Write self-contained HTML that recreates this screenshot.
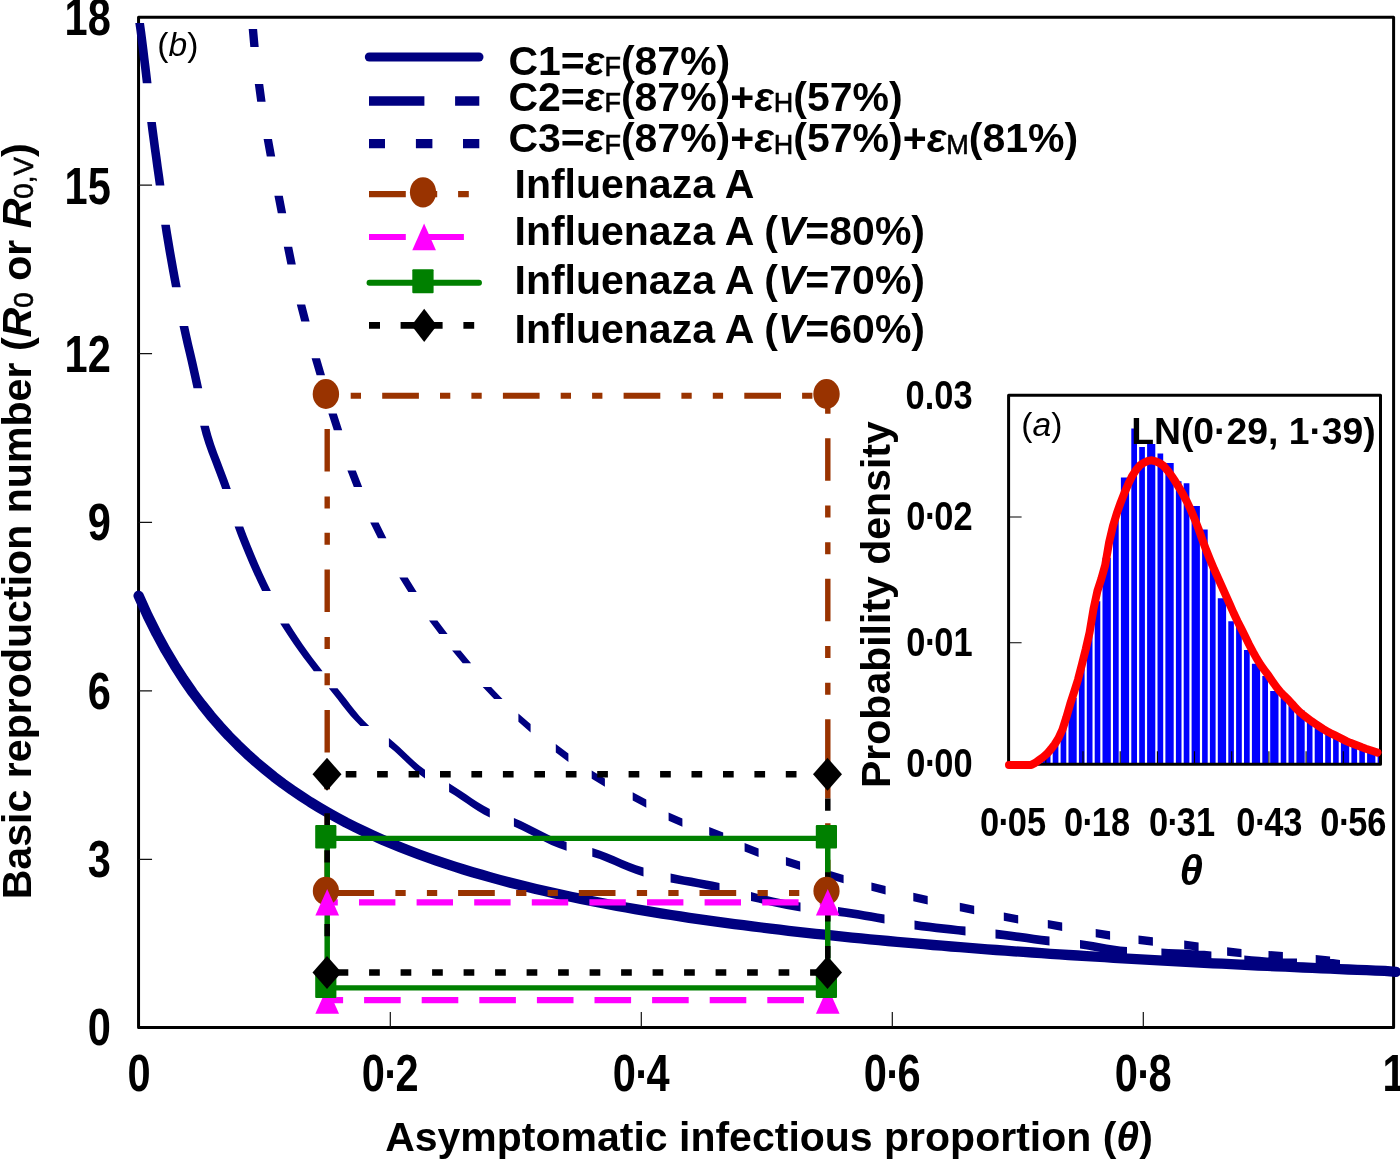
<!DOCTYPE html>
<html lang="en"><head><meta charset="utf-8"><title>Figure</title><style>html,body{margin:0;padding:0;background:#fff}svg{display:block}</style></head><body>
<svg width="1400" height="1162" viewBox="0 0 1400 1162" font-family="'Liberation Sans', sans-serif" font-weight="bold" fill="#000">
<rect width="1400" height="1162" fill="#fff"/>
<rect x="138.55" y="17.3" width="1255.05" height="1010.1000000000001" fill="none" stroke="#000" stroke-width="3" stroke-linejoin="round"/>
<path d="M138.55 859.4h13.5M138.55 690.8h13.5M138.55 522.3h13.5M138.55 353.7h13.5M138.55 185.2h13.5M390.3 1027.4v-15.5M641.3 1027.4v-15.5M892.3 1027.4v-15.5M1143.3 1027.4v-15.5" stroke="#111" stroke-width="1.2" fill="none"/>
<g fill="none" stroke="#000080">
<path d="M138.6 595.7 L147.6 615.6 L156.6 633.6 L165.6 650.2 L174.7 665.4 L183.7 679.5 L192.7 692.5 L201.8 704.5 L210.8 715.8 L219.8 726.2 L228.8 736 L237.9 745.2 L246.9 753.8 L255.9 761.9 L265 769.5 L274 776.8 L283 783.6 L292 790 L301.1 796.1 L310.1 802 L319.1 807.5 L328.2 812.8 L337.2 817.8 L346.2 822.6 L355.2 827.1 L364.3 831.5 L373.3 835.7 L382.3 839.7 L391.4 843.6 L400.4 847.3 L409.4 850.8 L418.5 854.2 L427.5 857.5 L436.5 860.7 L445.5 863.7 L454.6 866.6 L463.6 869.5 L472.6 872.2 L481.7 874.8 L490.7 877.4 L499.7 879.9 L508.7 882.3 L517.8 884.6 L526.8 886.8 L535.8 889 L544.9 891.1 L553.9 893.1 L562.9 895.1 L571.9 897 L581 898.9 L590 900.7 L599 902.5 L608.1 904.2 L617.1 905.9 L626.1 907.5 L635.2 909.1 L644.2 910.6 L653.2 912.1 L662.2 913.6 L671.3 915 L680.3 916.4 L689.3 917.8 L698.4 919.1 L707.4 920.4 L716.4 921.6 L725.4 922.9 L734.5 924.1 L743.5 925.2 L752.5 926.4 L761.6 927.5 L770.6 928.6 L779.6 929.7 L788.6 930.8 L797.7 931.8 L806.7 932.8 L815.7 933.8 L824.8 934.7 L833.8 935.7 L842.8 936.6 L851.9 937.5 L860.9 938.4 L869.9 939.3 L878.9 940.2 L888 941 L897 941.8 L906 942.6 L915.1 943.4 L924.1 944.2 L933.1 945 L942.1 945.7 L951.2 946.5 L960.2 947.2 L969.2 947.9 L978.3 948.6 L987.3 949.3 L996.3 950 L1005.3 950.6 L1014.4 951.3 L1023.4 951.9 L1032.4 952.5 L1041.5 953.2 L1050.5 953.8 L1059.5 954.4 L1068.6 955 L1077.6 955.5 L1086.6 956.1 L1095.6 956.7 L1104.7 957.2 L1113.7 957.8 L1122.7 958.3 L1131.8 958.8 L1140.8 959.4 L1149.8 959.9 L1158.8 960.4 L1167.9 960.9 L1176.9 961.4 L1185.9 961.8 L1195 962.3 L1204 962.8 L1213 963.3 L1222 963.7 L1231.1 964.2 L1240.1 964.6 L1249.1 965 L1258.2 965.5 L1267.2 965.9 L1276.2 966.3 L1285.3 966.7 L1294.3 967.1 L1303.3 967.5 L1312.3 967.9 L1321.4 968.3 L1330.4 968.7 L1339.4 969.1 L1348.5 969.5 L1357.5 969.8 L1366.5 970.2 L1375.5 970.6 L1384.6 970.9 L1396 971.8" stroke-width="10.3" stroke-linecap="round" stroke-linejoin="round"/>
</g>
<path d="M135.3 22.9 L136.5 31.5 L137.6 40.1 L138.7 48.7 L139.7 57.3 L140.8 66 L141.8 74.6 L142.8 83.2 L151.5 83.2 L150.5 74.6 L149.5 66 L148.4 57.3 L147.4 48.7 L146.3 40.1 L145.2 31.5 L144 22.9zM147.2 121.9 L148.3 131 L149.5 140.1 L150.7 149.1 L152 158.2 L153.2 167.3 L154.5 176.3 L155.8 185.4 L164.4 185.4 L163.2 176.3 L161.9 167.3 L160.7 158.2 L159.4 149.1 L158.2 140.1 L157 131 L155.8 121.9zM161.2 224.7 L162.5 233.6 L164 242.6 L165.5 251.5 L167.1 260.5 L168.7 269.4 L170.3 278.3 L172 287.2 L180.7 287.2 L179 278.3 L177.4 269.4 L175.8 260.5 L174.2 251.5 L172.7 242.6 L171.2 233.6 L169.8 224.7zM179.5 325.9 L181.4 334.8 L183.4 343.7 L185.5 352.6 L187.6 361.5 L189.6 370.4 L191.6 379.4 L193.5 388.3 L202.2 388.3 L200.3 379.4 L198.3 370.4 L196.3 361.5 L194.2 352.6 L192.1 343.7 L190.1 334.8 L188.2 325.9zM200.2 425.8 L202.6 435 L205.4 444.1 L208.6 453.1 L212.1 462.1 L215.5 471.1 L218.9 480.1 L222.2 489.1 L230.8 489.1 L227.6 480.1 L224.2 471.1 L220.8 462.1 L217.3 453.1 L214.1 444.1 L211.3 435 L208.8 425.8zM234.6 526.5 L238.1 535.9 L241.8 545.2 L245.6 554.5 L249.5 563.8 L253.6 573 L257.8 582.1 L262.1 591.1 L270.9 591.1 L266.5 582.1 L262.3 573 L258.2 563.8 L254.3 554.5 L250.5 545.2 L246.8 535.9 L243.2 526.5zM280.2 623.4 L284.7 630.4 L289.3 637.4 L294 644.4 L298.8 651.2 L303.7 658 L308.7 664.6 L313.8 671.2 L322.6 671.2 L317.4 664.6 L312.4 658 L307.5 651.2 L302.7 644.4 L298 637.4 L293.4 630.4 L289 623.4zM328.8 688.2 L333.2 693.7 L337.6 699.3 L341.9 704.9 L346.3 710.6 L350.8 716 L355.5 721.1 L360.4 725.9 L369.2 725.9 L364.2 721.1 L359.5 716 L355 710.6 L350.6 704.9 L346.3 699.3 L341.9 693.7 L337.5 688.2zM388.9 738 L394.2 742.4 L399.3 747 L404.3 751.8 L409.3 756.6 L414.4 761.3 L419.6 765.7 L425 769.8 L425 778.5 L419.6 774.4 L414.4 770 L409.3 765.3 L404.3 760.5 L399.3 755.7 L394.2 751.1 L388.9 746.8zM449.1 783.2 L454.9 786.9 L460.7 790.7 L466.4 794.6 L472.1 798.5 L477.9 802.3 L483.8 805.8 L489.8 808.9 L489.8 817.6 L483.8 814.5 L477.9 811 L472.1 807.2 L466.4 803.3 L460.7 799.4 L454.9 795.6 L449.1 792zM513.9 817.9 L521.5 821.3 L529 825 L536.4 828.8 L543.8 832.6 L551.3 836.2 L558.9 839.4 L566.6 842 L566.6 850.8 L558.9 848.1 L551.3 844.9 L543.8 841.3 L536.4 837.5 L529 833.7 L521.5 830 L513.9 826.6zM592.3 848 L599.7 850.4 L607 853.3 L614.3 856.3 L621.5 859.5 L628.8 862.5 L636.1 865.3 L643.5 867.6 L643.5 876.4 L636.1 874 L628.8 871.2 L621.5 868.2 L614.3 865 L607 862 L599.7 859.1 L592.3 856.8zM670.6 873.6 L677.6 875 L684.6 876.4 L691.6 877.6 L698.6 878.9 L705.6 880.2 L712.6 881.6 L719.5 883.1 L719.5 891.9 L712.6 890.3 L705.6 888.9 L698.6 887.6 L691.6 886.3 L684.6 885.1 L677.6 883.7 L670.6 882.4zM751 892.1 L758 893.9 L765.1 895.6 L772.1 897.2 L779.2 898.7 L786.3 900.2 L793.4 901.5 L800.5 902.6 L800.5 911.4 L793.4 910.2 L786.3 908.9 L779.2 907.4 L772.1 905.9 L765.1 904.3 L758 902.6 L751 900.9zM838 907.1 L844.7 908.1 L851.3 909.1 L858 910.1 L864.6 911.2 L871.2 912.3 L877.9 913.5 L884.5 914.6 L884.5 923.4 L877.9 922.2 L871.2 921 L864.6 919.9 L858 918.8 L851.3 917.8 L844.7 916.8 L838 915.9zM914.5 920.6 L921.7 921.7 L929 922.6 L936.3 923.5 L943.6 924.3 L950.9 925.1 L958.2 925.9 L965.5 926.6 L965.5 935.4 L958.2 934.6 L950.9 933.8 L943.6 933 L936.3 932.2 L929 931.3 L921.7 930.4 L914.5 929.4zM995.5 929.6 L1003.2 930.6 L1010.9 931.5 L1018.6 932.6 L1026.4 933.6 L1034.1 934.7 L1041.8 935.7 L1049.5 936.6 L1049.5 945.4 L1041.8 944.4 L1034.1 943.4 L1026.4 942.3 L1018.6 941.3 L1010.9 940.2 L1003.2 939.3 L995.5 938.4zM1080 939.9 L1086.7 940.9 L1093.4 942 L1100.1 943.2 L1106.8 944.4 L1113.5 945.5 L1120.3 946.4 L1127 947 L1127 955.8 L1120.3 955.1 L1113.5 954.2 L1106.8 953.1 L1100.1 951.9 L1093.4 950.7 L1086.7 949.6 L1080 948.6zM1161.4 948.5 L1168.5 948.9 L1175.7 949.2 L1182.9 949.6 L1190 949.9 L1197.1 950.4 L1204.3 950.8 L1211.4 951.4 L1211.4 960.1 L1204.3 959.5 L1197.1 959.1 L1190 958.6 L1182.9 958.3 L1175.7 957.9 L1168.5 957.6 L1161.4 957.2zM1244.3 955.6 L1251.8 956.3 L1259.3 956.8 L1266.9 957.4 L1274.4 957.8 L1281.9 958.2 L1289.5 958.5 L1297 958.5 L1297 967.2 L1289.5 967.2 L1281.9 966.9 L1274.4 966.5 L1266.9 966.1 L1259.3 965.5 L1251.8 965 L1244.3 964.4zM1315.7 957.9 L1319.2 958 L1322.7 958.1 L1326.1 958.4 L1329.6 958.7 L1333.1 959 L1336.5 959.5 L1340 959.9 L1340 968.6 L1336.5 968.2 L1333.1 967.7 L1329.6 967.4 L1326.1 967.1 L1322.7 966.8 L1319.2 966.7 L1315.7 966.6zM248.7 29.1 L250.3 46.9 L258.7 46.9 L257.1 29.1zM254.8 83.9 L257.2 101.7 L265.6 101.7 L263.2 83.9zM263.6 138.9 L266.8 156.5 L275.2 156.5 L272 138.9zM274.4 195.7 L277.8 213.3 L286.2 213.3 L282.8 195.7zM283.8 246.8 L287.4 264.4 L295.8 264.4 L292.2 246.8zM296.8 304.4 L301.2 321.6 L309.6 321.6 L305.2 304.4zM311.6 358.3 L316.6 375.3 L325 375.3 L320 358.3zM328.4 413.4 L333.8 430.2 L342.2 430.2 L336.8 413.4zM347.4 470.6 L353.8 487 L362.2 487 L355.8 470.6zM370.2 522.6 L378 538.2 L386.4 538.2 L378.6 522.6zM399.3 577.4 L408.3 592 L416.7 592 L407.7 577.4zM429 620.6 L439.2 634 L447.6 634 L437.4 620.6zM452.1 650.4 L462.7 663.2 L471.1 663.2 L460.5 650.4zM482.7 687.1 L494.1 698.9 L502.5 698.9 L491.1 687.1zM518.4 713.4 L530.6 724 L530.6 732.4 L518.4 721.8zM555.8 744 L568.4 753.6 L568.4 762 L555.8 752.4zM591.7 770.4 L604.9 778.4 L604.9 786.8 L591.7 778.8zM632.7 792.2 L646.3 799.4 L646.3 807.8 L632.7 800.6zM668.6 812.4 L682.4 818.4 L682.4 826.8 L668.6 820.8zM709.2 827 L723.2 832.6 L723.2 841 L709.2 835.4zM744.6 843.1 L758.6 848.5 L758.6 856.9 L744.6 851.5zM785.9 857 L800.1 861.6 L800.1 870 L785.9 865.4zM829.4 870.7 L843.6 874.9 L843.6 883.3 L829.4 879.1zM871.4 882.4 L885.6 886 L885.6 894.4 L871.4 890.8zM913.3 892.8 L927.7 896 L927.7 904.4 L913.3 901.2zM959.8 902.8 L974.2 905.8 L974.2 914.2 L959.8 911.2zM1003.8 912.4 L1018.2 915.2 L1018.2 923.6 L1003.8 920.8zM1047.8 919.9 L1062.2 922.5 L1062.2 930.9 L1047.8 928.3zM1095.7 928.9 L1110.1 931.3 L1110.1 939.7 L1095.7 937.3zM1138.5 935.5 L1152.9 937.3 L1152.9 945.7 L1138.5 943.9zM1184.2 940.6 L1198.6 942.4 L1198.6 950.8 L1184.2 949zM1227.1 947.3 L1241.5 948.9 L1241.5 957.3 L1227.1 955.7zM1268.5 950.9 L1282.9 952.1 L1282.9 960.5 L1268.5 959.3zM1315.7 955.1 L1330.1 956.5 L1330.1 964.9 L1315.7 963.5z" fill="#000080"/>
<path d="M382.2 395.8H418.9M502.9 395.8H539.6M623.6 395.8H660.3M744.3 395.8H781M327.2 395.8H329.6M440 395.8H450.3M560.7 395.8H571M681.4 395.8H691.7M802.1 395.8H812.4M350.7 395.8H361M471.4 395.8H481.7M592.1 395.8H602.4M712.8 395.8H723.1M337.4 893H374.1M458.1 893H494.8M578.8 893H615.5M699.5 893H736.2M820.2 893H827.8M395.4 893H405.7M516.1 893H526.4M636.8 893H647.1M757.5 893H767.8M426.9 893H437.2M547.6 893H557.9M668.3 893H678.6M789 893H799.3" stroke="#993300" stroke-width="6" fill="none"/>
<path d="M327.2 429.1V471.6M327.2 569.6V612.1M327.2 710.1V752.6M327.2 850.6V893M327.2 496.4V508.4M327.2 636.9V648.9M327.2 777.4V789.4M327.2 395.8V404.3M327.2 532.8V544.8M327.2 673.3V685.3M327.2 813.8V825.8M827.8 438.2V480.7M827.8 578.7V621.2M827.8 719.2V761.7M827.8 859.7V893M827.8 505.4V517.4M827.8 645.9V657.9M827.8 786.4V798.4M827.8 401.7V413.7M827.8 542.2V554.2M827.8 682.7V694.7M827.8 823.2V835.2" stroke="#993300" stroke-width="5.4" fill="none"/>
<path d="M327.2 902.4H337.8M359 902.4H395.4M416.6 902.4H453M474.2 902.4H510.6M531.8 902.4H568.2M589.4 902.4H625.8M647 902.4H683.4M704.6 902.4H741M762.2 902.4H798.6M819.8 902.4H827.8M327.2 1000.1H343.1M364.1 1000.1H400.7M421.7 1000.1H458.3M479.3 1000.1H515.9M536.9 1000.1H573.5M594.5 1000.1H631.1M652.1 1000.1H688.7M709.7 1000.1H746.3M767.3 1000.1H803.9M824.9 1000.1H827.8" stroke="#FF00FF" stroke-width="6.2" fill="none"/>
<path d="M327.2 838.4H827.75M327.2 987.85H827.75" stroke="#008000" stroke-width="5.3" fill="none"/>
<path d="M327.2 838.4V987.85M827.75 838.4V987.85" stroke="#008000" stroke-width="5.5" fill="none"/>
<path d="M345.7 774.2H356.4M377.1 774.2H387.8M408.6 774.2H419.3M440 774.2H450.7M471.4 774.2H482.1M502.9 774.2H513.6M534.3 774.2H545M565.8 774.2H576.5M597.2 774.2H607.9M628.6 774.2H639.3M660.1 774.2H670.8M691.5 774.2H702.2M723 774.2H733.7M754.4 774.2H765.1M785.8 774.2H796.5M817.3 774.2H827.8M337.6 972.5H348.3M369.1 972.5H379.8M400.6 972.5H411.3M432.1 972.5H442.8M463.6 972.5H474.3M495.1 972.5H505.8M526.6 972.5H537.3M558.1 972.5H568.8M589.6 972.5H600.3M621.1 972.5H631.8M652.6 972.5H663.3M684.1 972.5H694.8M715.6 972.5H726.3M747.1 972.5H757.8M778.6 972.5H789.3M810.1 972.5H820.8" stroke="#000" stroke-width="6.4" fill="none"/>
<path d="M327.2 776.4V788.7M327.2 813.3V825.6M327.2 850.2V862.5M327.2 887.1V899.4M327.2 924V936.3M327.2 960.9V972.5M827.8 798.4V810.7M827.8 835.3V847.6M827.8 872.2V884.5M827.8 909.1V921.4M827.8 946V958.3" stroke="#000" stroke-width="5.5" fill="none"/>
<ellipse cx="325.9" cy="394" rx="13.2" ry="15" fill="#993300"/>
<ellipse cx="325.9" cy="891" rx="13.1" ry="14.2" fill="#993300"/>
<ellipse cx="826.5" cy="394" rx="13.2" ry="15" fill="#993300"/>
<ellipse cx="826.5" cy="891" rx="13.1" ry="14.2" fill="#993300"/>
<path d="M327.2 889l11.85 26.5h-23.7z" fill="#FF00FF"/>
<path d="M327.2 987.3l11.85 26.5h-23.7z" fill="#FF00FF"/>
<path d="M827.75 889l11.85 26.5h-23.7z" fill="#FF00FF"/>
<path d="M827.75 987.3l11.85 26.5h-23.7z" fill="#FF00FF"/>
<rect x="315.2" y="825" width="21.2" height="23.5" rx="1" fill="#008000"/>
<rect x="315.2" y="974.5" width="21.2" height="23.5" rx="1" fill="#008000"/>
<rect x="815.8" y="825" width="21.2" height="23.5" rx="1" fill="#008000"/>
<rect x="815.8" y="974.5" width="21.2" height="23.5" rx="1" fill="#008000"/>
<path d="M327 757.8l14.5 16.5l-14.5 16.5l-14.5 -16.5z" fill="#000"/>
<path d="M327 956.0l14.5 16.5l-14.5 16.5l-14.5 -16.5z" fill="#000"/>
<path d="M827.5 757.8l14.5 16.5l-14.5 16.5l-14.5 -16.5z" fill="#000"/>
<path d="M827.5 956.0l14.5 16.5l-14.5 16.5l-14.5 -16.5z" fill="#000"/>
<path d="M369.3 57H479" stroke="#000080" stroke-width="9" stroke-linecap="round" fill="none"/>
<path d="M369 101H424.4M455.1 101H479.3" stroke="#000080" stroke-width="9.4" fill="none"/>
<path d="M369 143.6H385M415.9 143.6H432.4M463 143.6H479.3" stroke="#000080" stroke-width="9.4" fill="none"/>
<path d="M369 194.2H405.8M426.8 194.2H437.2M458.1 194.2H468.8" stroke="#993300" stroke-width="6.2" fill="none"/>
<ellipse cx="423" cy="192.3" rx="13.1" ry="15.1" fill="#993300"/>
<path d="M369 237H405.8M428 237H463.9" stroke="#FF00FF" stroke-width="6.2" fill="none"/>
<path d="M424.1 223.5l11.85 26.8h-23.7z" fill="#FF00FF"/>
<path d="M369.5 282.7H479" stroke="#008000" stroke-width="5.9" stroke-linecap="round" fill="none"/>
<rect x="412.3" y="269.3" width="21.3" height="24" rx="1" fill="#008000"/>
<path d="M369 325.4H380M400.6 325.4H442.6M463.4 325.4H474.2" stroke="#000" stroke-width="6.9" fill="none"/>
<path d="M424.2 308.84999999999997l12.7 16.55l-12.7 16.55l-12.7 -16.55z" fill="#000"/>
<text x="508.4" y="74.5" font-size="41">C1=<tspan font-style="italic">ε</tspan><tspan font-weight="normal" font-size="27" stroke="#000" stroke-width="0.6" dy="1.5">F</tspan><tspan dy="-1.5">(87%)</tspan></text>
<text x="508.4" y="110.6" font-size="41">C2=<tspan font-style="italic">ε</tspan><tspan font-weight="normal" font-size="27" stroke="#000" stroke-width="0.6" dy="1.5">F</tspan><tspan dy="-1.5">(87%)+</tspan><tspan font-style="italic">ε</tspan><tspan font-weight="normal" font-size="27" stroke="#000" stroke-width="0.6" dy="1.5">H</tspan><tspan dy="-1.5">(57%)</tspan></text>
<text x="508.4" y="152" font-size="41">C3=<tspan font-style="italic">ε</tspan><tspan font-weight="normal" font-size="27" stroke="#000" stroke-width="0.6" dy="1.5">F</tspan><tspan dy="-1.5">(87%)+</tspan><tspan font-style="italic">ε</tspan><tspan font-weight="normal" font-size="27" stroke="#000" stroke-width="0.6" dy="1.5">H</tspan><tspan dy="-1.5">(57%)+</tspan><tspan font-style="italic">ε</tspan><tspan font-weight="normal" font-size="27" stroke="#000" stroke-width="0.6" dy="1.5">M</tspan><tspan dy="-1.5">(81%)</tspan></text>
<text x="514.5" y="198" font-size="41">Influenaza A</text>
<text x="514.5" y="245" font-size="41">Influenaza A (<tspan font-style="italic">V</tspan>=80%)</text>
<text x="514.5" y="293.7" font-size="41">Influenaza A (<tspan font-style="italic">V</tspan>=70%)</text>
<text x="514.5" y="343" font-size="41">Influenaza A (<tspan font-style="italic">V</tspan>=60%)</text>
<text x="157.3" y="55.5" font-size="33.6" font-weight="normal">(<tspan font-style="italic">b</tspan>)</text>
<text transform="translate(110.8,1045.4) scale(0.815,1)" font-size="51" text-anchor="end">0</text>
<text transform="translate(110.8,877.1) scale(0.815,1)" font-size="51" text-anchor="end">3</text>
<text transform="translate(110.8,708.7) scale(0.815,1)" font-size="51" text-anchor="end">6</text>
<text transform="translate(110.8,540.4) scale(0.815,1)" font-size="51" text-anchor="end">9</text>
<text transform="translate(110.8,372) scale(0.815,1)" font-size="51" text-anchor="end">12</text>
<text transform="translate(110.8,203.6) scale(0.815,1)" font-size="51" text-anchor="end">15</text>
<text transform="translate(110.8,35.3) scale(0.815,1)" font-size="51" text-anchor="end">18</text>
<text transform="translate(139.1,1091.4) scale(0.815,1)" font-size="51" text-anchor="middle">0</text>
<text transform="translate(390.1,1091.4) scale(0.815,1)" font-size="51" text-anchor="middle">0<tspan dx="-0.70">·</tspan><tspan dx="-3.30">2</tspan></text>
<text transform="translate(641.1,1091.4) scale(0.815,1)" font-size="51" text-anchor="middle">0<tspan dx="-0.70">·</tspan><tspan dx="-3.30">4</tspan></text>
<text transform="translate(892.1,1091.4) scale(0.815,1)" font-size="51" text-anchor="middle">0<tspan dx="-0.70">·</tspan><tspan dx="-3.30">6</tspan></text>
<text transform="translate(1143.1,1091.4) scale(0.815,1)" font-size="51" text-anchor="middle">0<tspan dx="-0.70">·</tspan><tspan dx="-3.30">8</tspan></text>
<text transform="translate(1394.1,1091.4) scale(0.815,1)" font-size="51" text-anchor="middle">1</text>
<text x="769" y="1151.4" font-size="41" text-anchor="middle">Asymptomatic infectious proportion (<tspan font-style="italic">θ</tspan>)</text>
<text transform="translate(30.7,521.3) rotate(-90) scale(0.991,1)" font-size="41.5" text-anchor="middle">Basic reproduction number (<tspan font-style="italic">R</tspan><tspan font-weight="normal" font-size="28" stroke="#000" stroke-width="0.65" dy="2">0</tspan><tspan dy="-2"> or </tspan><tspan font-style="italic">R</tspan><tspan font-weight="normal" font-size="28" stroke="#000" stroke-width="0.65" dy="2">0,V</tspan><tspan dy="-2">)</tspan></text>
<path d="M1042.3 764.3V754.4H1050.5V764.3zM1052.7 764.3V743H1058.4V764.3zM1060.6 764.3V724.6H1066.3V764.3zM1068.5 764.3V697.7H1076.7V764.3zM1078.9 764.3V665.6H1084.6V764.3zM1086.8 764.3V632H1092.5V764.3zM1094.7 764.3V601.3H1100.3V764.3zM1102.5 764.3V557.8H1110.8V764.3zM1113 764.3V513.6H1118.7V764.3zM1120.9 764.3V477.5H1129.1V764.3zM1131.3 764.3V428.5H1137V764.3zM1139.2 764.3V447H1144.9V764.3zM1147.1 764.3V444H1155.3V764.3zM1157.5 764.3V453.4H1163.2V764.3zM1165.4 764.3V462.9H1173.7V764.3zM1175.9 764.3V481.2H1181.5V764.3zM1183.7 764.3V483.3H1189.4V764.3zM1191.6 764.3V506.1H1199.9V764.3zM1202.1 764.3V529.5H1207.7V764.3zM1209.9 764.3V564.4H1215.6V764.3zM1217.8 764.3V598.2H1226.1V764.3zM1228.3 764.3V621.2H1233.9V764.3zM1236.1 764.3V625H1241.8V764.3zM1244 764.3V649.9H1249.7V764.3zM1251.9 764.3V663.7H1260.1V764.3zM1262.3 764.3V675.9H1268V764.3zM1270.2 764.3V690.9H1278.5V764.3zM1280.7 764.3V696.2H1286.3V764.3zM1288.5 764.3V704.2H1294.2V764.3zM1296.4 764.3V710.5H1304.7V764.3zM1306.9 764.3V720.2H1312.5V764.3zM1314.7 764.3V725.7H1323V764.3zM1325.2 764.3V732.1H1330.9V764.3zM1333.1 764.3V735.3H1338.7V764.3zM1340.9 764.3V740.8H1349.2V764.3zM1351.4 764.3V745.3H1357.1V764.3zM1359.3 764.3V746.1H1364.9V764.3zM1367.1 764.3V749.6H1375.4V764.3zM1377.6 764.3V752.1H1379.3V764.3z" fill="#0000FF"/>
<rect x="1008.6" y="395.3" width="371.9" height="369" fill="none" stroke="#000" stroke-width="3" stroke-linejoin="round"/>
<path d="M1008.6 517h13M1008.6 642.8h13M1045.8 764.3v-13M1083 764.3v-13M1120.2 764.3v-13M1157.4 764.3v-13M1194.5 764.3v-13M1231.7 764.3v-13M1268.9 764.3v-13M1306.1 764.3v-13M1343.3 764.3v-13" stroke="#000" stroke-width="1.1" fill="none"/>
<path d="M1009 764.9 L1031.3 764.9 L1035.2 762.9 L1039.1 760 L1043 757.2 L1046.9 753.8 L1050.7 749.5 L1054.6 744.4 L1058.5 738.2 L1062.4 729.7 L1066.3 717.6 L1070.2 704.1 L1074.1 692 L1078 679.6 L1081.9 664.4 L1085.8 649 L1089.6 632.4 L1093.5 609.1 L1097.4 591 L1101.3 579 L1105.2 565.2 L1109.1 542.4 L1113 525.9 L1116.9 513.1 L1120.8 502.2 L1124.7 492.3 L1128.5 483.5 L1132.4 475.6 L1136.3 469.6 L1140.2 465.1 L1144.1 462.7 L1148 460.9 L1151.9 460.3 L1155.8 461.3 L1159.7 463.2 L1163.6 465.8 L1167.4 470.3 L1171.3 475.4 L1175.2 481.3 L1179.1 487.7 L1183 494.3 L1186.9 501.6 L1190.8 509.9 L1194.7 519.1 L1198.6 529.1 L1202.5 540.1 L1206.3 550.3 L1210.2 560 L1214.1 569.2 L1218 577.8 L1221.9 586.6 L1225.8 595.3 L1229.7 604.2 L1233.6 613 L1237.5 621.2 L1241.4 628.9 L1245.2 636.6 L1249.1 644.5 L1253 651.9 L1256.9 658.9 L1260.8 665.1 L1264.7 670.5 L1268.6 675.7 L1272.5 681.4 L1276.4 687 L1280.3 691.8 L1284.1 695.7 L1288 699.4 L1291.9 703.6 L1295.8 708.1 L1299.7 712 L1303.6 715.3 L1307.5 718.2 L1311.4 721.1 L1315.3 723.8 L1319.2 726.4 L1323 728.9 L1326.9 731.2 L1330.8 733.3 L1334.7 735.2 L1338.6 737.1 L1342.5 739.1 L1346.4 741.1 L1350.3 742.8 L1354.2 744.3 L1358.1 745.8 L1361.9 747.3 L1365.8 748.7 L1369.7 750 L1373.6 751.3 L1377.5 752.6" stroke="#FF0000" stroke-width="8" fill="none" stroke-linecap="round" stroke-linejoin="round"/>
<text x="1021.3" y="436.2" font-size="33.6" font-weight="normal">(<tspan font-style="italic">a</tspan>)</text>
<text x="1131.2" y="443.8" font-size="36" textLength="244.5" lengthAdjust="spacingAndGlyphs">LN(0·29, 1·39)</text>
<text transform="translate(972.6,408.6) scale(0.84,1)" font-size="41" text-anchor="end">0.03</text>
<text transform="translate(972.6,530) scale(0.84,1)" font-size="41" text-anchor="end">0<tspan dx="-0.56">·</tspan><tspan dx="-2.65">02</tspan></text>
<text transform="translate(972.6,655.6) scale(0.84,1)" font-size="41" text-anchor="end">0<tspan dx="-0.56">·</tspan><tspan dx="-2.65">01</tspan></text>
<text transform="translate(972.6,776.9) scale(0.84,1)" font-size="41" text-anchor="end">0<tspan dx="-0.56">·</tspan><tspan dx="-2.65">00</tspan></text>
<text transform="translate(1013,835.5) scale(0.84,1)" font-size="41" text-anchor="middle">0<tspan dx="-0.56">·</tspan><tspan dx="-2.65">05</tspan></text>
<text transform="translate(1097,835.5) scale(0.84,1)" font-size="41" text-anchor="middle">0<tspan dx="-0.56">·</tspan><tspan dx="-2.65">18</tspan></text>
<text transform="translate(1182,835.5) scale(0.84,1)" font-size="41" text-anchor="middle">0<tspan dx="-0.56">·</tspan><tspan dx="-2.65">31</tspan></text>
<text transform="translate(1269.4,835.5) scale(0.84,1)" font-size="41" text-anchor="middle">0<tspan dx="-0.56">·</tspan><tspan dx="-2.65">43</tspan></text>
<text transform="translate(1353.4,835.5) scale(0.84,1)" font-size="41" text-anchor="middle">0<tspan dx="-0.56">·</tspan><tspan dx="-2.65">56</tspan></text>
<text x="1191.3" y="885.3" font-size="42" text-anchor="middle" font-style="italic">θ</text>
<text transform="translate(890.4,604.6) rotate(-90)" font-size="41" text-anchor="middle">Probability density</text>
</svg>
</body></html>
